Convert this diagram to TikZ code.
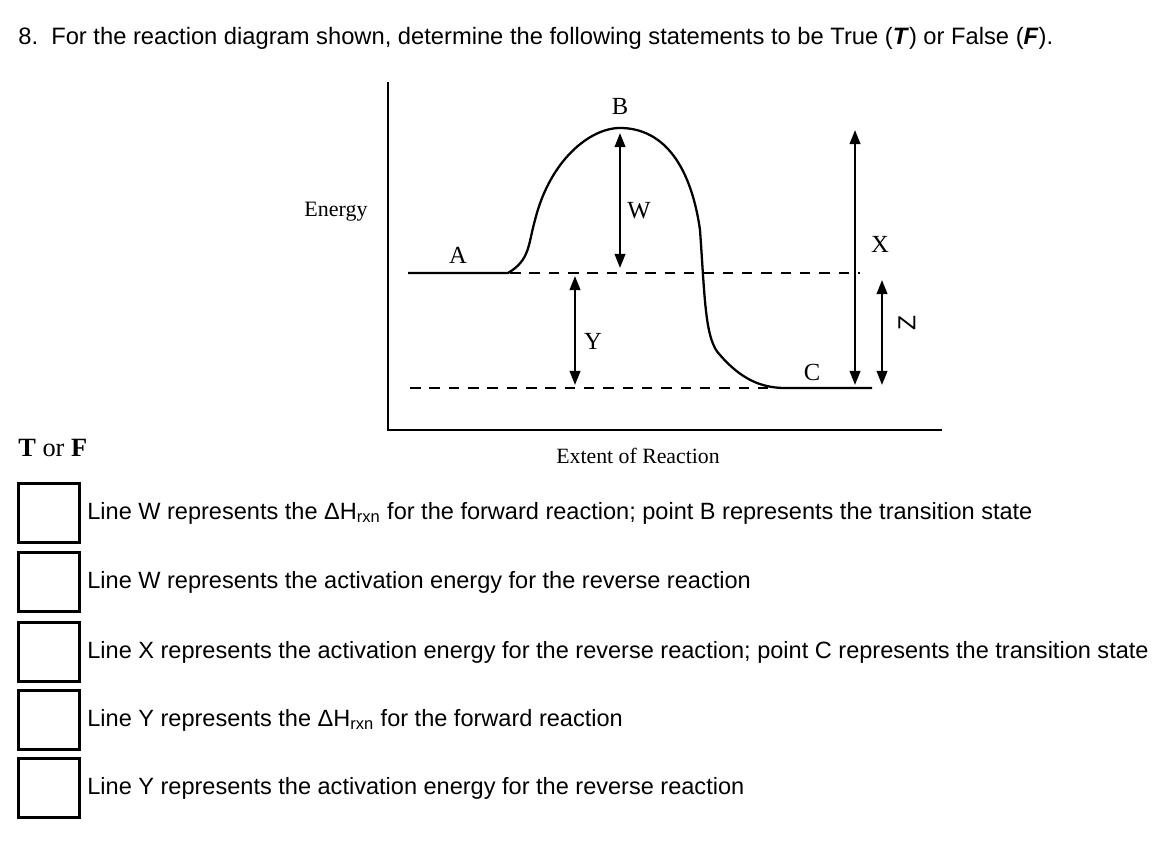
\documentclass[tikz,border=0pt]{standalone}
\usepackage{fontspec}
\setmainfont{Liberation Serif}
\newfontfamily\sans{Liberation Sans}
\usetikzlibrary{arrows.meta}
\begin{document}
\begin{tikzpicture}[x=0.02cm,y=-0.02cm,
  ax/.style={line width=1.6pt},
  curve/.style={line width=1.3pt},
  dsh/.style={line width=1.3pt,dash pattern=on 6pt off 5pt},
  arr/.style={line width=1.2pt,{Triangle[length=8pt,width=6pt]}-{Triangle[length=8pt,width=6pt]}},
  box/.style={draw,line width=1.2pt,minimum width=1.22cm,minimum height=1.18cm,inner sep=0},
  stmt/.style={anchor=west,font=\sans\fontsize{13.4}{15}\selectfont,inner sep=0},
  lab/.style={font=\fontsize{14}{16}\selectfont,inner sep=0}]
\useasboundingbox (0,0) rectangle (1170,841);
\node[anchor=west,inner sep=0,font=\sans\fontsize{13.5}{15}\selectfont] (title) at (18,38) {8.\ \ For the reaction diagram shown, determine the following statements to be True (\textit{\textbf{T}}) or False (\textit{\textbf{F}}).};
% axes
\draw[ax] (388,82) -- (388,430) -- (942,430);
\node[lab,font=\fontsize{12.5}{14}\selectfont] (energy) at (336,212) {Energy};
\node[lab,font=\fontsize{12.4}{14}\selectfont] (extent) at (638,456) {Extent of Reaction};
% dashed levels
\draw[dsh] (510,273) -- (860,273);
\draw[dsh] (410,388) -- (780,388);
% curve
\draw[curve] (408,273) -- (508,273) .. controls (530,260) and (528,245) .. (535,220)
  .. controls (550,160) and (590,128) .. (620,128)
  .. controls (660,128) and (690,160) .. (700,230)
  .. controls (705,300) and (705,340) .. (720,355)
  .. controls (740,378) and (760,388) .. (785,388) -- (872,388);
% arrows
\draw[arr] (620,133) -- (620,268);
\draw[arr] (575,276) -- (575,385);
\draw[arr] (855,130) -- (855,385);
\draw[arr] (882,280) -- (882,385);
\node[lab] (B) at (620,106) {B};
\node[lab] (A) at (458,255) {A};
\node[lab] (C) at (812,372) {C};
\node[lab] (W) at (639,211) {W};
\node[lab] (Y) at (593,341) {Y};
\node[lab] (X) at (880,244) {X};
\node[lab,font=\sans\fontsize{14}{16}\selectfont,rotate=90] (Z) at (907,323) {Z};
\node[anchor=west,inner sep=0,font=\fontsize{15}{17}\selectfont] (tf) at (18,448) {\textbf{T} or \textbf{F}};
% boxes and statements
\foreach \y/\t [count=\i] in {513/{Line W represents the ΔH\textsubscript{rxn} for the forward reaction; point B represents the transition state},
 582/{Line W represents the activation energy for the reverse reaction},
 652/{Line X represents the activation energy for the reverse reaction; point C represents the transition state},
 720/{Line Y represents the ΔH\textsubscript{rxn} for the forward reaction},
 788/{Line Y represents the activation energy for the reverse reaction}}{
  \node[box] (b\i) at (49,\y) {};
  \node[stmt] (s\i) at (87,\y) {\t};
}
\end{tikzpicture}
\end{document}
